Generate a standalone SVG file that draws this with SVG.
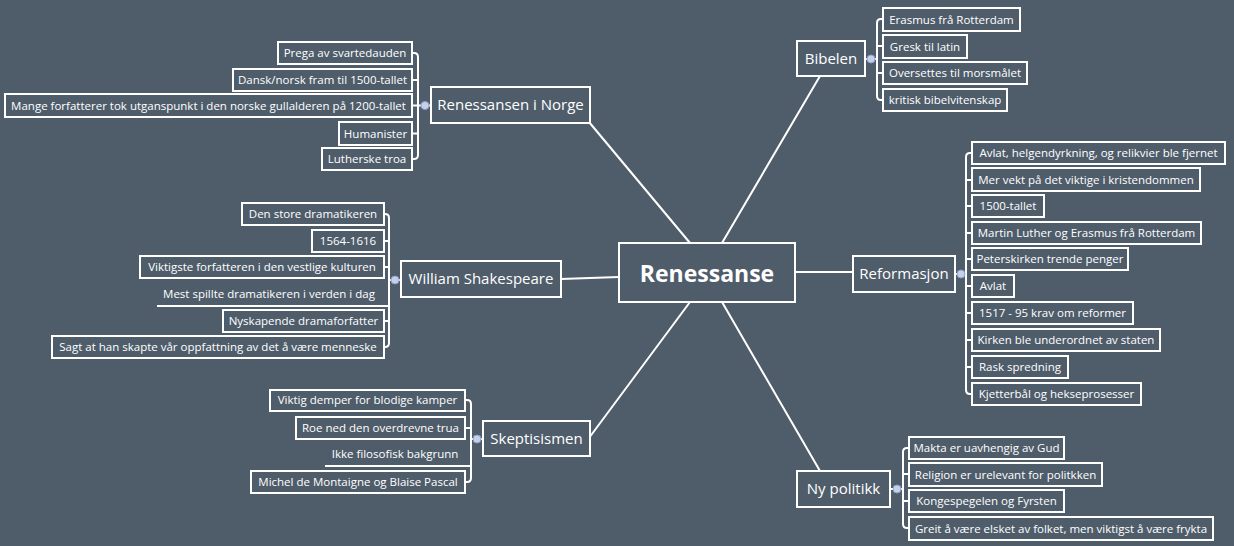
<svg xmlns="http://www.w3.org/2000/svg" width="1234" height="546" viewBox="0 0 1234 546">
<style>
.l{fill:none;stroke:#fff;stroke-width:2}
.b{fill:#4f5d6b;stroke:#fff;stroke-width:2}
.t{fill:#fff;font-family:"Open Sans",sans-serif;font-size:11.5px;text-anchor:middle}
.m{fill:#fff;font-family:"Open Sans",sans-serif;font-size:15px;text-anchor:middle}
.d{fill:#c5d0ea;stroke:#8fa0c8;stroke-width:1}
</style>
<rect width="1234" height="546" fill="#4f5d6b"/>
<g id="connectors">
<path class="l" d="M690 243 L589 122 M619 277 L561 279 M690 302 L589 438 M722 243 L820 76 M795 272 L853 272 M722 302 L820 471"/>
<path class="l" d="M412 53H414Q418 53 418 57V155Q418 159 414 159H412 M412 80H418 M412 105.5H431 M412 133.5H418"/>
<path class="l" d="M384 214H385Q389 214 389 218V343Q389 347 385 347H384 M384 241H389 M384 267H389 M384 306H389 M384 321H389 M389 280H401"/>
<path class="l" d="M465 400H467Q471 400 471 404V478Q471 482 467 482H465 M465 428H471 M465 466H471 M471 439H483"/>
<path class="l" d="M883 19H881Q877 19 877 23V96Q877 100 881 100H883 M883 46H877 M883 73H877 M865 59H877"/>
<path class="l" d="M972 153H970Q966 153 966 157V390Q966 394 970 394H972 M972 180H966 M972 206H966 M972 233H966 M972 259H966 M972 286H966 M972 313H966 M972 340H966 M972 367H966 M955 274H966"/>
<path class="l" d="M909 448H907Q903 448 903 452V524Q903 528 907 528H909 M909 474H903 M909 501H903 M890 489H903"/>
<circle class="d" cx="425" cy="105.5" r="4"/><circle class="d" cx="395" cy="280" r="4"/><circle class="d" cx="477" cy="439" r="4"/>
<circle class="d" cx="871" cy="59" r="4"/><circle class="d" cx="961" cy="274" r="4"/><circle class="d" cx="897" cy="489" r="4"/>
</g>
<g id="center"><rect class="b" x="619" y="243" width="176" height="59"/><text x="707" y="282" fill="#fff" font-family="Open Sans,sans-serif" font-size="23" font-weight="bold" text-anchor="middle">Renessanse</text></g>
<g id="norge"><rect class="b" x="431" y="87" width="159" height="36"/><text class="m" x="510.5" y="110">Renessansen i Norge</text></g>
<g id="shakespeare"><rect class="b" x="401" y="261" width="160" height="36"/><text class="m" x="481" y="284">William Shakespeare</text></g>
<g id="skeptisismen"><rect class="b" x="483" y="421" width="107" height="35"/><text class="m" x="536.5" y="444">Skeptisismen</text></g>
<g id="bibelen"><rect class="b" x="797" y="41" width="68" height="35"/><text class="m" x="831" y="64">Bibelen</text></g>
<g id="reformasjon"><rect class="b" x="853" y="256" width="102" height="36"/><text class="m" x="904" y="279">Reformasjon</text></g>
<g id="nypolitikk"><rect class="b" x="797" y="471" width="93" height="36"/><text class="m" x="843.5" y="494">Ny politikk</text></g>
<g id="n1"><rect class="b" x="278" y="42" width="134" height="22"/><text class="t" x="345" y="57">Prega av svartedauden</text></g>
<g id="n2"><rect class="b" x="233" y="69" width="179" height="22"/><text class="t" x="322.5" y="84">Dansk/norsk fram til 1500-tallet</text></g>
<g id="n3"><rect class="b" x="5" y="94" width="407" height="23"/><text class="t" x="208.5" y="110">Mange forfatterer tok utganspunkt i den norske gullalderen på 1200-tallet</text></g>
<g id="n4"><rect class="b" x="339" y="122" width="73" height="23"/><text class="t" x="375.5" y="138">Humanister</text></g>
<g id="n5"><rect class="b" x="322" y="148" width="90" height="22"/><text class="t" x="367" y="163">Lutherske troa</text></g>
<g id="s1"><rect class="b" x="242" y="203" width="142" height="22"/><text class="t" x="313" y="218">Den store dramatikeren</text></g>
<g id="s2"><rect class="b" x="312" y="230" width="72" height="22"/><text class="t" x="348" y="245">1564-1616</text></g>
<g id="s3"><rect class="b" x="140" y="256" width="244" height="22"/><text class="t" x="262" y="271">Viktigste forfatteren i den vestlige kulturen</text></g>
<g id="s4"><path class="l" d="M157 306H384"/><text class="t" x="269" y="298">Mest spillte dramatikeren i verden i dag</text></g>
<g id="s5"><rect class="b" x="223" y="310" width="161" height="22"/><text class="t" x="303.5" y="325">Nyskapende dramaforfatter</text></g>
<g id="s6"><rect class="b" x="52" y="336" width="332" height="22"/><text class="t" x="218" y="351">Sagt at han skapte vår oppfattning av det å være menneske</text></g>
<g id="k1"><rect class="b" x="270" y="390" width="195" height="21"/><text class="t" x="367.5" y="404">Viktig demper for blodige kamper</text></g>
<g id="k2"><rect class="b" x="296" y="417" width="169" height="22"/><text class="t" x="380.5" y="432">Roe ned den overdrevne trua</text></g>
<g id="k3"><path class="l" d="M325 466H465"/><text class="t" x="395" y="458">Ikke filosofisk bakgrunn</text></g>
<g id="k4"><rect class="b" x="251" y="471" width="214" height="22"/><text class="t" x="358" y="486">Michel de Montaigne og Blaise Pascal</text></g>
<g id="b1"><rect class="b" x="883" y="8" width="137" height="23"/><text class="t" x="951.5" y="24">Erasmus frå Rotterdam</text></g>
<g id="b2"><rect class="b" x="883" y="35" width="84" height="23"/><text class="t" x="925" y="51">Gresk til latin</text></g>
<g id="b3"><rect class="b" x="883" y="62" width="144" height="22"/><text class="t" x="955" y="77">Oversettes til morsmålet</text></g>
<g id="b4"><rect class="b" x="883" y="89" width="124" height="22"/><text class="t" x="945" y="104">kritisk bibelvitenskap</text></g>
<g id="r1"><rect class="b" x="972" y="142" width="253" height="22"/><text class="t" x="1098.5" y="157">Avlat, helgendyrkning, og relikvier ble fjernet</text></g>
<g id="r2"><rect class="b" x="972" y="168" width="228" height="23"/><text class="t" x="1086" y="184">Mer vekt på det viktige i kristendommen</text></g>
<g id="r3"><rect class="b" x="972" y="195" width="72" height="22"/><text class="t" x="1008" y="210">1500-tallet</text></g>
<g id="r4"><rect class="b" x="972" y="222" width="229" height="22"/><text class="t" x="1086.5" y="237">Martin Luther og Erasmus frå Rotterdam</text></g>
<g id="r5"><rect class="b" x="972" y="248" width="156" height="22"/><text class="t" x="1050" y="263">Peterskirken trende penger</text></g>
<g id="r6"><rect class="b" x="972" y="275" width="42" height="22"/><text class="t" x="993" y="290">Avlat</text></g>
<g id="r7"><rect class="b" x="972" y="302" width="161" height="22"/><text class="t" x="1052.5" y="317">1517 - 95 krav om reformer</text></g>
<g id="r8"><rect class="b" x="972" y="329" width="188" height="22"/><text class="t" x="1066" y="344">Kirken ble underordnet av staten</text></g>
<g id="r9"><rect class="b" x="972" y="356" width="96" height="22"/><text class="t" x="1020" y="371">Rask spredning</text></g>
<g id="r10"><rect class="b" x="972" y="383" width="169" height="22"/><text class="t" x="1056.5" y="398">Kjetterbål og hekseprosesser</text></g>
<g id="p1"><rect class="b" x="909" y="437" width="155" height="22"/><text class="t" x="986.5" y="452">Makta er uavhengig av Gud</text></g>
<g id="p2"><rect class="b" x="909" y="463" width="193" height="23"/><text class="t" x="1005.5" y="479">Religion er urelevant for politkken</text></g>
<g id="p3"><rect class="b" x="909" y="490" width="155" height="22"/><text class="t" x="986.5" y="505">Kongespegelen og Fyrsten</text></g>
<g id="p4"><rect class="b" x="909" y="517" width="304" height="23"/><text class="t" x="1061" y="533">Greit å være elsket av folket, men viktigst å være frykta</text></g>
</svg>
